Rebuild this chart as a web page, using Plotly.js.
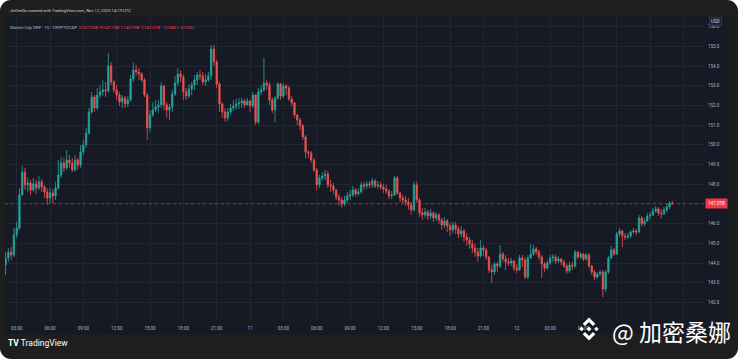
<!DOCTYPE html>
<html>
<head>
<meta charset="utf-8">
<script src="https://cdn.plot.ly/plotly-3.0.1.min.js"></script>
<style>
  html, body { margin: 0; padding: 0; background: #ffffff; }
  #chart { width: 738px; height: 359px; border-radius: 11px; overflow: hidden; }
</style>
</head>
<body>
<div id="chart"></div>
<script>
// ---- Data: XRP market cap (billions USD), 15-minute candles, Nov 10 02:00 -> Nov 12 14:00 UTC ----
const startTime = '2025-11-10T02:00:00Z';
const intervalMinutes = 15;

const open = [
  143.90,144.26,144.56,144.41,145.43,145.78,147.46,148.62,147.97,148.07,
  147.71,148.02,147.81,148.12,147.86,147.61,147.30,147.56,147.41,147.81,
  148.47,149.08,148.83,149.23,149.08,148.73,149.23,148.98,149.64,149.99,
  150.60,151.67,152.43,151.87,152.53,152.69,152.79,152.74,154.00,153.19,
  152.79,152.53,152.18,152.38,152.08,152.28,153.34,153.80,153.70,153.60,
  153.29,152.53,150.86,151.52,151.77,151.92,152.03,152.99,152.03,151.77,
  151.92,152.58,153.14,153.60,153.45,152.69,152.48,152.84,153.04,153.29,
  153.55,153.50,153.19,153.29,153.50,154.87,154.21,153.09,152.08,151.67,
  151.37,151.67,151.87,151.97,152.08,152.13,152.23,152.03,152.23,151.97,
  152.53,151.16,152.69,152.79,153.14,153.04,152.28,151.77,152.38,153.09,
  152.48,152.99,152.89,152.33,152.13,151.52,151.26,150.96,150.40,149.64,
  149.59,149.23,148.73,147.97,148.32,148.42,148.52,147.97,147.91,147.71,
  147.36,147.20,147.00,147.20,147.41,147.46,147.71,147.51,147.61,147.97,
  147.91,148.02,147.97,148.17,147.91,147.97,147.86,147.76,147.66,147.41,
  147.46,148.32,147.56,147.30,147.20,147.10,146.95,146.70,147.97,147.20,
  146.54,146.44,146.59,146.39,146.54,146.29,146.44,146.19,145.93,146.14,
  145.88,145.68,145.93,145.73,145.48,145.63,145.32,145.17,144.97,144.77,
  144.56,144.36,144.77,144.66,144.31,143.65,143.55,143.95,143.85,144.46,
  144.21,144.06,144.00,144.11,143.75,143.65,144.26,144.16,143.29,144.26,
  144.46,144.72,144.56,144.31,143.95,143.75,144.00,144.26,144.31,144.11,
  144.21,144.06,143.85,143.60,143.90,143.85,144.56,144.31,144.46,144.21,
  144.41,143.85,143.55,143.29,143.45,143.55,142.68,143.55,144.26,144.66,
  144.46,145.48,145.63,145.38,145.32,145.38,145.58,145.63,145.58,146.29,
  145.99,146.14,146.39,146.44,146.64,146.75,146.54,146.49,146.70,146.85,
  147.05
];
const high = [
  144.56,144.77,144.82,145.78,146.09,147.81,148.93,148.83,148.32,148.22,
  148.32,148.22,148.42,148.27,147.97,147.81,147.81,147.76,148.12,149.23,
  149.39,149.34,149.74,149.49,149.34,149.49,149.34,149.99,150.25,150.86,
  151.87,152.69,152.53,152.89,153.04,153.29,153.19,154.67,154.21,153.29,
  153.04,152.69,152.53,152.48,152.48,153.55,154.16,154.06,153.90,153.70,
  153.40,152.64,151.77,152.18,152.28,152.28,153.19,153.04,152.18,152.08,
  152.79,153.50,153.90,153.80,153.55,152.89,153.09,153.19,153.55,153.70,
  153.80,153.70,153.60,153.70,155.07,155.07,154.31,153.19,152.18,151.87,
  151.87,152.08,152.28,152.33,152.38,152.38,152.33,152.38,152.28,152.69,
  152.58,152.89,153.04,154.41,153.29,153.19,152.43,152.48,153.19,153.14,
  153.14,153.09,152.99,152.48,152.18,151.57,151.37,151.06,150.50,149.74,
  149.69,149.33,148.83,148.47,148.62,148.73,148.67,148.22,148.07,147.76,
  147.51,147.36,147.41,147.61,147.71,147.91,147.81,147.81,148.12,148.12,
  148.17,148.17,148.32,148.27,148.17,148.12,148.02,147.97,147.76,147.66,
  148.42,148.42,147.61,147.46,147.41,147.30,147.10,148.12,148.12,147.30,
  146.80,146.80,146.70,146.75,146.64,146.59,146.54,146.29,146.34,146.24,
  146.04,146.09,146.09,145.88,145.88,145.73,145.53,145.32,145.17,144.97,
  144.77,145.17,144.92,144.77,144.36,143.90,144.06,144.06,144.92,144.56,
  144.41,144.26,144.26,144.16,143.95,144.41,144.41,144.31,144.41,144.97,
  144.92,144.82,144.66,144.41,144.06,144.16,144.41,144.46,144.41,144.36,
  144.26,144.16,143.95,144.06,144.06,144.66,144.61,144.56,144.51,144.51,
  144.51,143.90,143.65,143.55,143.65,143.65,143.65,144.36,144.87,144.77,
  145.58,145.78,145.68,145.53,145.53,145.68,145.78,145.73,146.44,146.39,
  146.29,146.54,146.59,146.80,146.90,146.85,146.75,146.85,147.00,147.15,
  147.15
];
const low = [
  143.40,144.06,144.16,144.31,145.27,145.68,147.41,147.71,147.61,147.46,
  147.61,147.51,147.71,147.61,147.30,146.95,147.05,147.05,147.20,147.71,
  148.32,148.62,148.73,148.83,148.62,148.62,148.73,148.83,149.49,149.84,
  150.50,151.57,151.67,151.77,152.38,152.48,152.43,152.64,153.04,152.64,
  152.28,151.97,151.87,151.87,151.92,152.18,153.19,153.50,153.29,153.19,
  152.43,150.25,150.65,151.42,151.67,151.62,151.87,151.77,151.37,151.26,
  151.67,152.48,152.99,153.19,152.28,152.28,152.38,152.53,152.79,153.04,
  153.29,153.04,152.99,153.19,153.29,154.00,152.89,151.67,151.37,151.16,
  151.21,151.52,151.72,151.77,151.82,151.87,151.87,151.97,151.67,151.87,
  151.01,151.06,152.53,152.69,152.79,152.03,151.62,151.16,152.28,152.28,
  152.38,152.53,152.23,151.97,151.37,151.01,150.76,150.25,149.33,149.33,
  149.08,148.62,147.71,147.81,148.17,148.22,147.81,147.61,147.51,147.20,
  146.90,146.80,146.90,147.10,147.20,147.36,147.36,147.41,147.51,147.71,
  147.76,147.81,147.81,147.81,147.76,147.71,147.56,147.51,147.25,147.25,
  147.41,147.46,147.10,147.00,146.90,146.70,146.44,146.59,147.05,146.34,
  146.19,146.29,146.19,146.24,146.09,146.14,145.99,145.68,145.78,145.58,
  145.38,145.53,145.48,145.27,145.32,145.07,144.87,144.72,144.51,144.31,
  144.06,144.26,144.36,144.16,143.50,142.99,143.40,143.55,143.75,144.06,
  143.65,143.85,143.85,143.60,143.50,143.60,143.80,143.19,143.19,144.21,
  144.36,144.41,144.16,143.24,143.55,143.65,143.90,144.06,143.95,144.00,
  143.90,143.75,143.45,143.50,143.65,143.75,144.21,144.21,144.11,144.11,
  143.75,143.40,143.14,143.19,143.34,142.28,142.53,143.45,144.21,144.36,
  144.41,145.32,144.82,145.17,145.22,145.27,145.48,145.43,145.53,145.88,
  145.88,146.09,146.24,146.39,146.54,146.39,146.24,146.44,146.59,146.75,
  146.95
];
const close = [
  144.26,144.56,144.41,145.43,145.78,147.46,148.62,147.97,148.07,147.71,
  148.02,147.81,148.12,147.86,147.61,147.30,147.56,147.41,147.81,148.47,
  149.08,148.83,149.23,149.08,148.73,149.23,148.98,149.64,149.99,150.60,
  151.67,152.43,151.87,152.53,152.69,152.79,152.74,154.00,153.19,152.79,
  152.53,152.18,152.38,152.08,152.28,153.34,153.80,153.70,153.60,153.29,
  152.53,150.86,151.52,151.77,151.92,152.03,152.99,152.03,151.77,151.92,
  152.58,153.14,153.60,153.45,152.69,152.48,152.84,153.04,153.29,153.55,
  153.50,153.19,153.29,153.50,154.87,154.21,153.09,152.08,151.67,151.37,
  151.67,151.87,151.97,152.08,152.13,152.23,152.03,152.23,151.97,152.53,
  151.16,152.69,152.79,153.14,153.04,152.28,151.77,152.38,153.09,152.48,
  152.99,152.89,152.33,152.13,151.52,151.26,150.96,150.40,149.64,149.59,
  149.23,148.73,147.97,148.32,148.42,148.52,147.97,147.91,147.71,147.36,
  147.20,147.00,147.20,147.41,147.46,147.71,147.51,147.61,147.97,147.91,
  148.02,147.97,148.17,147.91,147.97,147.86,147.76,147.66,147.41,147.46,
  148.32,147.56,147.30,147.20,147.10,146.95,146.70,147.97,147.20,146.54,
  146.44,146.59,146.39,146.54,146.29,146.44,146.19,145.93,146.14,145.88,
  145.68,145.93,145.73,145.48,145.63,145.32,145.17,144.97,144.77,144.56,
  144.36,144.77,144.66,144.31,143.65,143.55,143.95,143.85,144.46,144.21,
  144.06,144.00,144.11,143.75,143.65,144.26,144.16,143.29,144.26,144.46,
  144.72,144.56,144.31,143.95,143.75,144.00,144.26,144.31,144.11,144.21,
  144.06,143.85,143.60,143.90,143.85,144.56,144.31,144.46,144.21,144.41,
  143.85,143.55,143.29,143.45,143.55,142.68,143.55,144.26,144.66,144.46,
  145.48,145.63,145.38,145.32,145.38,145.58,145.63,145.58,146.29,145.99,
  146.14,146.39,146.44,146.64,146.75,146.54,146.49,146.70,146.85,147.05,
  147.01
];

// time-axis gridlines and labels (labels hidden under the watermark are left blank, as in the picture)
const tickTimes = [
  '2025-11-10 03:00','2025-11-10 06:00','2025-11-10 09:00','2025-11-10 12:00',
  '2025-11-10 15:00','2025-11-10 18:00','2025-11-10 21:00',
  '2025-11-11 00:00','2025-11-11 03:00','2025-11-11 06:00','2025-11-11 09:00',
  '2025-11-11 12:00','2025-11-11 15:00','2025-11-11 18:00','2025-11-11 21:00',
  '2025-11-12 00:00','2025-11-12 03:00','2025-11-12 06:00','2025-11-12 09:00',
  '2025-11-12 12:00','2025-11-12 15:00'
];
const tickLabels = [
  '03:00','06:00','09:00','12:00','15:00','18:00','21:00',
  '11','03:00','06:00','09:00','12:00','15:00','18:00','21:00',
  '12','03:00','06:00','','',''
];

// price-axis gridlines and labels (147.0 is covered by the last-price tag in the picture)
const priceTicks = [142,143,144,145,146,147,148,149,150,151,152,153,154,155,156];
const priceLabels = ['142.0','143.0','144.0','145.0','146.0','','148.0','149.0','150.0',
                     '151.0','152.0','153.0','154.0','155.0','156.0'];

// ---- build candle times ----
const t0 = Date.parse(startTime);
const times = close.map((_, i) => {
  const d = new Date(t0 + i * intervalMinutes * 60000);
  return d.toISOString().slice(0, 16).replace('T', ' ');
});

const UP = '#26a69a', DOWN = '#ef5350';
const PANEL = '#161a25', FRAME = '#1e1e1f', GRID = '#222632', TXT = '#b2b5be';
const FONT = 'Roboto, "Noto Sans", sans-serif';

const last = close.length - 1;
const chg = close[last] - close[last - 1];
const pct = chg / close[last - 1] * 100;
const fmt = v => v.toFixed(2) + 'B';
const sgn = v => (v < 0 ? '\u2212' : '+') + Math.abs(v).toFixed(2);
const legendText =
  '<span style="color:#b2b5be">Market Cap XRP \u00b7 15 \u00b7 CRYPTOCAP</span>  ' +
  '<span style="color:#f23645">O' + fmt(open[last]) + '  H' + fmt(high[last]) +
  '  L' + fmt(low[last]) + '  C' + fmt(close[last]) + '  ' + sgn(chg) + 'B (' + sgn(pct) + '%)</span>';

const trace = {
  type: 'candlestick',
  x: times, open: open, high: high, low: low, close: close,
  increasing: { line: { color: UP, width: 0.8 }, fillcolor: UP },
  decreasing: { line: { color: DOWN, width: 0.8 }, fillcolor: DOWN },
  whiskerwidth: 0,
  hoverinfo: 'skip',
  showlegend: false
};

// pixel geometry helpers (plot area: x 5..704, y 17..321)
const PW = 699, PH = 304, PL = 5, PT = 17;
const px = p => (p - PL) / PW;
const py = p => (PT + PH - p) / PH;

const layout = {
  width: 738, height: 359,
  margin: { l: 5, r: 34, t: 17, b: 38 },
  paper_bgcolor: FRAME,
  plot_bgcolor: PANEL,
  font: { family: FONT, color: TXT, size: 5 },
  showlegend: false,
  xaxis: {
    type: 'date',
    range: ['2025-11-10 01:57', '2025-11-12 16:51'],
    tickvals: tickTimes, ticktext: tickLabels,
    showgrid: true, gridcolor: GRID, gridwidth: 1,
    zeroline: false, showline: false, ticks: '',
    tickfont: { size: 4.5, color: TXT, family: FONT },
    ticklabelstandoff: 3,
    rangeslider: { visible: false },
    fixedrange: true
  },
  yaxis: {
    side: 'right',
    range: [141.06, 156.49],
    tickvals: priceTicks, ticktext: priceLabels,
    showgrid: true, gridcolor: GRID, gridwidth: 1,
    zeroline: false, showline: false, ticks: '',
    tickfont: { size: 4.5, color: TXT, family: FONT },
    ticklabelstandoff: 3,
    fixedrange: true
  },
  shapes: [
    { type: 'rect', xref: 'paper', yref: 'paper', x0: 0, x1: px(729), y0: py(334), y1: 1,
      fillcolor: PANEL, line: { width: 0 }, layer: 'below' },
    { type: 'line', xref: 'paper', yref: 'y', x0: 0, x1: 1, y0: close[last], y1: close[last],
      line: { color: '#f23645', width: 0.8, dash: 'dot' }, opacity: 0.8 },
    // Binance-style logo of the watermark
    { type: 'path', xref: 'paper', yref: 'paper', xsizemode: 'pixel', ysizemode: 'pixel',
      xanchor: px(589), yanchor: py(329),
      path: 'M 0 11.5 L 6.3 5.2 L 4 2.9 L 0 6.9 L -4 2.9 L -6.3 5.2 Z ' +
            'M 0 -11.5 L 6.3 -5.2 L 4 -2.9 L 0 -6.9 L -4 -2.9 L -6.3 -5.2 Z ' +
            'M -9.7 0 L -7.4 2.3 L -5.1 0 L -7.4 -2.3 Z ' +
            'M 9.7 0 L 7.4 2.3 L 5.1 0 L 7.4 -2.3 Z ' +
            'M 0 2.4 L 2.4 0 L 0 -2.4 L -2.4 0 Z',
      fillcolor: '#ffffff', line: { width: 0 } }
  ],
  annotations: [
    { xref: 'paper', yref: 'paper', x: px(8), y: py(10), xanchor: 'left', yanchor: 'middle',
      text: 'JetSetGo created with TradingView.com, Nov 12, 2025 14:19 UTC', showarrow: false,
      font: { size: 4.2, color: '#d1d4dc', family: FONT } },
    { xref: 'paper', yref: 'paper', x: px(8), y: py(27), xanchor: 'left', yanchor: 'middle',
      text: legendText, showarrow: false, font: { size: 4.3, family: FONT } },
    { xref: 'paper', yref: 'paper', x: px(715), y: py(21), xanchor: 'center', yanchor: 'middle',
      text: 'USD', showarrow: false, bgcolor: '#1e222d', bordercolor: '#434651', borderwidth: 0.6,
      borderpad: 1.5, font: { size: 4.5, color: '#d1d4dc', family: FONT } },
    { xref: 'paper', yref: 'y', x: px(704.5), y: close[last], xanchor: 'left', yanchor: 'middle',
      text: fmt(close[last]), showarrow: false, bgcolor: '#f23645', borderpad: 2,
      font: { size: 4.6, color: '#ffffff', family: FONT } },
    { xref: 'paper', yref: 'paper', x: px(6), y: py(343), xanchor: 'left', yanchor: 'middle',
      text: '<b>TV</b> TradingView', showarrow: false,
      font: { size: 8.5, color: '#ffffff', family: FONT } },
    { xref: 'paper', yref: 'paper', x: px(610), y: py(331), xanchor: 'left', yanchor: 'middle',
      text: '@ 加密桑娜', showarrow: false,
      font: { size: 23, color: '#ffffff', family: '"Noto Sans CJK SC", "Noto Sans", sans-serif' } }
  ]
};

Plotly.newPlot('chart', [trace], layout, { staticPlot: true, displayModeBar: false });
</script>
</body>
</html>
